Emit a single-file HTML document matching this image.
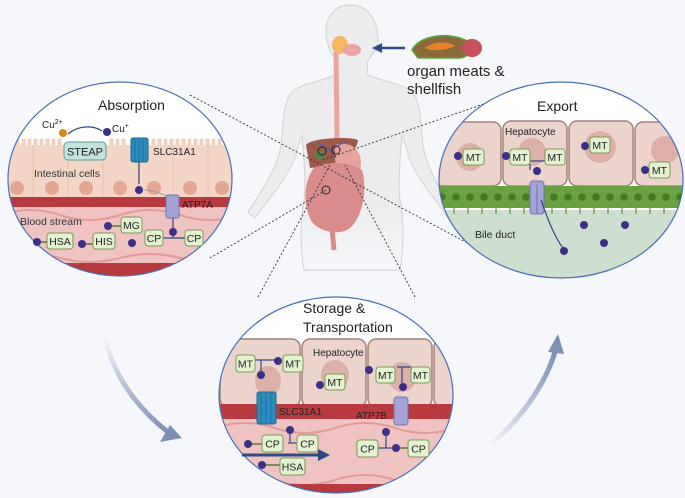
<!DOCTYPE html>
<html><head><meta charset="utf-8"><style>
html,body{margin:0;padding:0;background:#f5f7fa;}
svg{display:block;font-family:"Liberation Sans",Arial,sans-serif;}
</style></head><body>
<svg width="685" height="498" viewBox="0 0 685 498" xmlns="http://www.w3.org/2000/svg">
<defs>
<clipPath id="cl"><ellipse cx="120" cy="179" rx="112" ry="97"/></clipPath>
<clipPath id="cr"><ellipse cx="561" cy="180" rx="122" ry="98"/></clipPath>
<clipPath id="cb"><ellipse cx="336" cy="395" rx="117" ry="98"/></clipPath>
<linearGradient id="ga" x1="0" y1="0" x2="0" y2="1"><stop offset="0" stop-color="#f5f7fa"/><stop offset="1" stop-color="#7f90b5"/></linearGradient>
<linearGradient id="gb" x1="0" y1="1" x2="1" y2="0"><stop offset="0" stop-color="#f5f7fa"/><stop offset="1" stop-color="#7f90b5"/></linearGradient>
<linearGradient id="gbody" x1="0" y1="0" x2="0" y2="1"><stop offset="0.75" stop-color="#ececee"/><stop offset="1" stop-color="#f5f7fa"/></linearGradient>
<linearGradient id="garr" x1="0" x2="1"><stop offset="0" stop-color="#9db0d0" stop-opacity="0.2"/><stop offset="1" stop-color="#2f4a86"/></linearGradient>
</defs>
<rect width="685" height="498" fill="#f5f7fa"/>

<!-- body -->
<path d="M350,5 C334,5 325,18 326,34 C327,46 332,55 336,60 L335,75 C320,82 300,84 292,92 C282,102 284,130 280,150 C276,170 262,190 248,212 L255,218 C268,200 286,180 294,160 L302,135 C304,160 306,180 304,200 C300,222 300,245 304,270 L400,270 C404,245 404,222 400,200 C398,180 400,160 402,135 L410,160 C418,180 436,200 448,218 L455,212 C440,190 428,170 424,150 C420,130 422,102 412,92 C404,84 384,82 368,75 L367,62 C372,55 378,48 378,40 C378,20 368,5 350,5 Z" fill="url(#gbody)" stroke="#cfd1d4" stroke-width="1"/>
<!-- mouth & esophagus -->
<ellipse cx="340" cy="45" rx="8" ry="9" fill="#f3b860"/>
<ellipse cx="352" cy="50" rx="9" ry="6" fill="#e9a3a0"/>
<path d="M336,52 L337,140" stroke="#e9a6a0" stroke-width="5" fill="none"/>
<!-- organs -->
<path d="M306,145 C310,138 350,136 358,140 C356,155 340,165 310,168 Z" fill="#9b5b48"/>
<path d="M335,145 C350,140 365,150 360,170 C352,178 338,172 335,160 Z" fill="#e7a49e"/>
<path d="M314,168 C330,160 350,162 362,170 C368,190 362,218 350,228 C340,236 320,232 312,222 C302,205 304,180 314,168 Z" fill="#d98c8c"/>
<path d="M332,228 L334,250" stroke="#d98c8c" stroke-width="5"/>
<ellipse cx="320" cy="155" rx="5" ry="4" fill="#4d8a4a"/>
<path d="M318,143 L330,150 L345,142 M330,150 L336,158" stroke="#4b5fc6" stroke-width="1.2" fill="none"/>
<circle cx="322" cy="151" r="4" fill="none" stroke="#222" stroke-width="1"/>
<circle cx="336" cy="150" r="4" fill="none" stroke="#222" stroke-width="1"/>
<circle cx="326" cy="190" r="4" fill="none" stroke="#222" stroke-width="1"/>

<!-- food -->
<path d="M412,50 C418,38 440,32 460,38 L470,42 C475,50 468,58 458,58 L418,58 Z" fill="#8a6a3a" stroke="#5aa83e" stroke-width="1.5"/>
<path d="M425,48 C435,40 450,42 455,46 C448,50 432,52 425,48 Z" fill="#e8822a"/>
<ellipse cx="472" cy="48" rx="10" ry="9" fill="#c8505a"/>
<path d="M405,48 L380,48" stroke="#2f4a86" stroke-width="2.5"/>
<path d="M372,48 L382,43 L382,53 Z" fill="#2f4a86"/>
<text x="407" y="76" font-size="15" fill="#222">organ meats &amp;</text>
<text x="407" y="94" font-size="15" fill="#222">shellfish</text>

<!-- dotted lines -->
<g stroke="#333" stroke-width="0.9" stroke-dasharray="2,2" fill="none">
<path d="M190,95 L490,255"/>
<path d="M210,258 L326,190"/>
<path d="M323,160 L495,100"/>
<path d="M258,297 L330,165"/>
<path d="M415,297 L345,165"/>
</g>

<!-- LEFT ellipse -->
<g clip-path="url(#cl)">
<rect x="0" y="80" width="240" height="200" fill="#ffffff"/>
<rect x="0" y="145" width="240" height="52" fill="#f4d6c6"/>
<g fill="#f4d6c6" stroke="#e6bba6" stroke-width="0.6">
<path d="M10,145 v-6 h3 v6 M16,145 v-6 h3 v6 M22,145 v-6 h3 v6 M28,145 v-6 h3 v6 M34,145 v-6 h3 v6 M40,145 v-6 h3 v6 M46,145 v-6 h3 v6 M52,145 v-6 h3 v6 M58,145 v-6 h3 v6 M110,145 v-6 h3 v6 M116,145 v-6 h3 v6 M122,145 v-6 h3 v6 M152,145 v-6 h3 v6 M158,145 v-6 h3 v6 M164,145 v-6 h3 v6 M170,145 v-6 h3 v6 M176,145 v-6 h3 v6 M182,145 v-6 h3 v6 M188,145 v-6 h3 v6 M194,145 v-6 h3 v6 M200,145 v-6 h3 v6 M206,145 v-6 h3 v6 M212,145 v-6 h3 v6 M218,145 v-6 h3 v6 M224,145 v-6 h3 v6"/>
</g>
<g stroke="#e8c2b0" stroke-width="1"><path d="M33,145 V197 M68,145 V197 M103,145 V197 M138,145 V197 M173,145 V197 M208,145 V197"/></g>
<g fill="#e3a892"><circle cx="17" cy="188" r="7"/><circle cx="52" cy="188" r="7"/><circle cx="86" cy="188" r="7"/><circle cx="120" cy="188" r="7"/><circle cx="154" cy="188" r="7"/><circle cx="190" cy="188" r="7"/><circle cx="222" cy="188" r="7"/></g>
<rect x="0" y="197" width="240" height="10" fill="#b8393e"/>
<rect x="0" y="207" width="240" height="60" fill="#efc3c1"/>
<path d="M0,215 Q30,205 60,215 T120,215 T180,215 T240,215" stroke="#e39b98" fill="none" stroke-width="2"/>
<path d="M0,258 Q30,250 60,258 T120,258 T180,258 T240,258" stroke="#e39b98" fill="none" stroke-width="2"/>
<rect x="0" y="263" width="240" height="20" fill="#b8393e"/>
</g>
<ellipse cx="120" cy="179" rx="112" ry="97" fill="none" stroke="#4a6fb5" stroke-width="1.2"/>
<text x="98" y="110" font-size="14" fill="#222">Absorption</text>
<text x="42" y="128" font-size="10" fill="#222">Cu<tspan font-size="7" dy="-4">2+</tspan></text>
<circle cx="63" cy="133" r="4" fill="#d4881c"/>
<path d="M68,134 C80,124 95,126 102,131" stroke="#2f4a86" stroke-width="1.2" fill="none"/>
<circle cx="107" cy="132" r="4" fill="#3b2f87"/>
<text x="112" y="132" font-size="10" fill="#222">Cu<tspan font-size="7" dy="-4">+</tspan></text>
<rect x="64" y="142" width="42" height="18" rx="4" fill="#c2e2de" stroke="#5f9c95"/>
<text x="85" y="155.5" font-size="11" text-anchor="middle" fill="#222">STEAP</text>
<rect x="131" y="138" width="17" height="24" rx="2" fill="#2a8bbd" stroke="#1d6a93"/>
<path d="M135,138 V162 M139,138 V162 M143,138 V162" stroke="#1d6a93" stroke-width="0.7"/>
<text x="153" y="155" font-size="10" fill="#222">SLC31A1</text>
<text x="34" y="177" font-size="10.5" fill="#333">Intestinal cells</text>
<path d="M139,162 V184" stroke="#2f4a86" stroke-width="1.2"/>
<circle cx="139" cy="190" r="4" fill="#3b2f87"/>
<path d="M145,190 C160,192 168,196 172,200" stroke="#999" fill="none"/>
<rect x="166" y="195" width="13" height="23" rx="2" fill="#a3a3d6" stroke="#7373b0"/>
<text x="182" y="208" font-size="10" fill="#222">ATP7A</text>
<text x="20" y="225" font-size="10.5" fill="#333">Blood stream</text>
<path d="M173,218 V228" stroke="#2f4a86" stroke-width="1.2"/>
<circle cx="173" cy="232" r="4" fill="#3b2f87"/>
<path d="M185,238 H163 M173,235 V238" stroke="#2f4a86" stroke-width="1.2"/>
<g fill="#e4f2d2" stroke="#7a9a50">
<rect x="121" y="217" width="21" height="16" rx="3"/>
<rect x="47" y="233" width="26" height="16" rx="3"/>
<rect x="93" y="233" width="22" height="16" rx="3"/>
<rect x="145" y="230" width="18" height="16" rx="3"/>
<rect x="185" y="230" width="18" height="16" rx="3"/>
</g>
<g stroke="#5a7a35" stroke-width="1.5"><path d="M108,226 H121 M37,242 H47 M82,244 H93"/></g>
<g fill="#3b2f87"><circle cx="108" cy="226" r="4"/><circle cx="37" cy="242" r="4"/><circle cx="82" cy="244" r="4"/><circle cx="132" cy="243" r="4"/></g>
<g font-size="10.5" text-anchor="middle" fill="#222">
<text x="131.5" y="229">MG</text><text x="60" y="245">HSA</text><text x="104" y="245">HIS</text><text x="154" y="242">CP</text><text x="194" y="242">CP</text>
</g>

<!-- RIGHT ellipse -->
<g clip-path="url(#cr)">
<rect x="430" y="80" width="260" height="200" fill="#ffffff"/>
<rect x="430" y="210" width="260" height="70" fill="#cfdfcf"/>
<g fill="#ecd4cc" stroke="#a48078" stroke-width="1.5">
<rect x="425" y="122" width="76" height="64" rx="8"/>
<rect x="503" y="121" width="64" height="65" rx="8"/>
<rect x="569" y="121" width="64" height="65" rx="8"/>
<rect x="635" y="122" width="60" height="64" rx="8"/>
</g>
<g fill="#dcb0a8"><circle cx="470" cy="157" r="14"/><circle cx="532" cy="152" r="14"/><circle cx="600" cy="147" r="16"/><circle cx="665" cy="150" r="14"/></g>
<rect x="430" y="186" width="260" height="22" fill="#6aa242"/>
<g stroke="#4d7d2c" stroke-width="0.8" fill="#427a27">
<circle cx="442" cy="197" r="3.5"/><circle cx="456" cy="197" r="3.5"/><circle cx="470" cy="197" r="3.5"/><circle cx="484" cy="197" r="3.5"/><circle cx="498" cy="197" r="3.5"/><circle cx="512" cy="197" r="3.5"/><circle cx="526" cy="197" r="3.5"/><circle cx="554" cy="197" r="3.5"/><circle cx="568" cy="197" r="3.5"/><circle cx="582" cy="197" r="3.5"/><circle cx="596" cy="197" r="3.5"/><circle cx="610" cy="197" r="3.5"/><circle cx="624" cy="197" r="3.5"/><circle cx="638" cy="197" r="3.5"/><circle cx="652" cy="197" r="3.5"/><circle cx="666" cy="197" r="3.5"/><circle cx="680" cy="197" r="3.5"/>
</g>
<path d="M440,208 v6 M454,208 v6 M468,208 v6 M482,208 v6 M496,208 v6 M510,208 v6 M524,208 v6 M552,208 v6 M566,208 v6 M580,208 v6 M594,208 v6 M608,208 v6 M622,208 v6 M636,208 v6 M650,208 v6 M664,208 v6 M678,208 v6" stroke="#4d7d2c"/>
</g>
<ellipse cx="561" cy="180" rx="122" ry="98" fill="none" stroke="#4a6fb5" stroke-width="1.2"/>
<text x="537" y="111" font-size="14" fill="#222">Export</text>
<text x="505" y="135" font-size="10" fill="#222">Hepatocyte</text>
<rect x="530" y="181" width="14" height="33" rx="3" fill="#a3a3d6" stroke="#7373b0"/>
<path d="M537,185 V214" stroke="#7373b0"/>
<path d="M530,164 V170 M527,161 H545" stroke="#2f4a86" stroke-width="1.2"/>
<circle cx="537" cy="171" r="4" fill="#3b2f87"/>
<path d="M541,200 C548,220 555,238 563,248" stroke="#2f4a86" stroke-width="1.2" fill="none"/>
<text x="475" y="238" font-size="10.5" fill="#222">Bile duct</text>
<g fill="#e4f2d2" stroke="#7a9a50">
<rect x="463" y="149" width="21" height="16" rx="3"/>
<rect x="510" y="149" width="20" height="16" rx="3"/>
<rect x="545" y="149" width="20" height="16" rx="3"/>
<rect x="590" y="137" width="20" height="16" rx="3"/>
<rect x="649" y="162" width="21" height="16" rx="3"/>
</g>
<g font-size="10.5" text-anchor="middle" fill="#222">
<text x="473.5" y="161">MT</text><text x="520" y="161">MT</text><text x="555" y="161">MT</text><text x="600" y="149">MT</text><text x="659.5" y="174">MT</text>
</g>
<g fill="#3b2f87"><circle cx="458" cy="156" r="4"/><circle cx="506" cy="156" r="4"/><circle cx="585" cy="146" r="4"/><circle cx="645" cy="170" r="4"/>
<circle cx="584" cy="225" r="4"/><circle cx="625" cy="225" r="4"/><circle cx="604" cy="243" r="4"/><circle cx="564" cy="251" r="4"/></g>

<!-- BOTTOM ellipse -->
<g clip-path="url(#cb)">
<rect x="215" y="295" width="245" height="205" fill="#ffffff"/>
<g fill="#ecd4cc" stroke="#a48078" stroke-width="1.5">
<rect x="220" y="339" width="80" height="68" rx="8"/>
<rect x="302" y="339" width="64" height="68" rx="8"/>
<rect x="368" y="339" width="64" height="68" rx="8"/>
<rect x="434" y="339" width="40" height="68" rx="8"/>
</g>
<g fill="#dcb0a8"><ellipse cx="268" cy="381" rx="13" ry="15"/><ellipse cx="335" cy="375" rx="14" ry="15"/><ellipse cx="402" cy="377" rx="14" ry="15"/></g>
<rect x="215" y="404" width="260" height="15" fill="#b8393e"/>
<rect x="215" y="419" width="260" height="65" fill="#efc3c1"/>
<path d="M215,428 Q245,418 275,428 T335,428 T395,428 T455,428" stroke="#e39b98" fill="none" stroke-width="2"/>
<path d="M215,480 Q245,470 275,480 T335,480 T395,480 T455,480" stroke="#e39b98" fill="none" stroke-width="2"/>
<rect x="215" y="484" width="260" height="15" fill="#b8393e"/>
</g>
<ellipse cx="336" cy="395" rx="117" ry="98" fill="none" stroke="#4a6fb5" stroke-width="1.2"/>
<text x="303" y="313" font-size="14" fill="#222">Storage &amp;</text>
<text x="303" y="332" font-size="14" fill="#222">Transportation</text>
<text x="313" y="356" font-size="10" fill="#222">Hepatocyte</text>
<rect x="257" y="392" width="19" height="32" rx="2" fill="#2a8bbd" stroke="#1d6a93"/>
<path d="M261,392 V424 M266,392 V424 M271,392 V424" stroke="#1d6a93" stroke-width="0.7"/>
<text x="279" y="415" font-size="10" fill="#222">SLC31A1</text>
<rect x="394" y="397" width="14" height="28" rx="3" fill="#a3a3d6" stroke="#7373b0"/>
<text x="356" y="419" font-size="10" fill="#222">ATP7B</text>
<path d="M290,442 V430 M288,443 H297" stroke="#2f4a86" stroke-width="1.2"/>
<path d="M386,436 V448 M378,448 H395" stroke="#2f4a86" stroke-width="1.2"/>
<path d="M255,360 H276 M261,360 V371 M402,367 V383 M397,367 H411" stroke="#2f4a86" stroke-width="1.2"/>
<path d="M242,455 H320" stroke="#2f4a86" stroke-width="3"/>
<path d="M330,455 L318,449 L318,461 Z" fill="#2f4a86"/>
<g stroke="#5a7a35" stroke-width="1.5"><path d="M248,444 H262 M262,465 H280 M400,448 H408"/></g>
<g fill="#e4f2d2" stroke="#7a9a50">
<rect x="236" y="355" width="19" height="17" rx="3"/>
<rect x="283" y="355" width="20" height="17" rx="3"/>
<rect x="325" y="374" width="20" height="16" rx="3"/>
<rect x="376" y="367" width="19" height="16" rx="3"/>
<rect x="411" y="367" width="19" height="16" rx="3"/>
<rect x="262" y="435" width="21" height="17" rx="3"/>
<rect x="297" y="435" width="21" height="17" rx="3"/>
<rect x="280" y="458" width="25" height="17" rx="3"/>
<rect x="357" y="440" width="21" height="17" rx="3"/>
<rect x="408" y="440" width="21" height="17" rx="3"/>
</g>
<g font-size="10.5" text-anchor="middle" fill="#222">
<text x="245.5" y="367.5">MT</text><text x="293" y="367.5">MT</text><text x="335" y="386">MT</text><text x="385.5" y="379">MT</text><text x="420.5" y="379">MT</text>
<text x="272.5" y="447.5">CP</text><text x="307.5" y="447.5">CP</text><text x="292.5" y="470.5">HSA</text><text x="367.5" y="452.5">CP</text><text x="418.5" y="452.5">CP</text>
</g>
<g fill="#3b2f87"><circle cx="278" cy="361" r="4"/><circle cx="261" cy="375" r="4"/><circle cx="320" cy="385" r="4"/><circle cx="369" cy="370" r="4"/><circle cx="403" cy="387" r="4"/>
<circle cx="248" cy="444" r="4"/><circle cx="290" cy="430" r="4"/><circle cx="262" cy="465" r="4"/><circle cx="386" cy="432" r="4"/><circle cx="396" cy="448" r="4"/></g>

<!-- big curved arrows -->
<path d="M105,338 C115,380 140,410 168,432" stroke="url(#ga)" stroke-width="5" fill="none"/>
<path d="M182,438 L160,442 L170,425 Z" fill="#7f90b5"/>
<path d="M490,445 C520,420 545,385 555,352" stroke="url(#gb)" stroke-width="5" fill="none"/>
<path d="M558,334 L548,352 L564,354 Z" fill="#7f90b5"/>
</svg>
</body></html>
